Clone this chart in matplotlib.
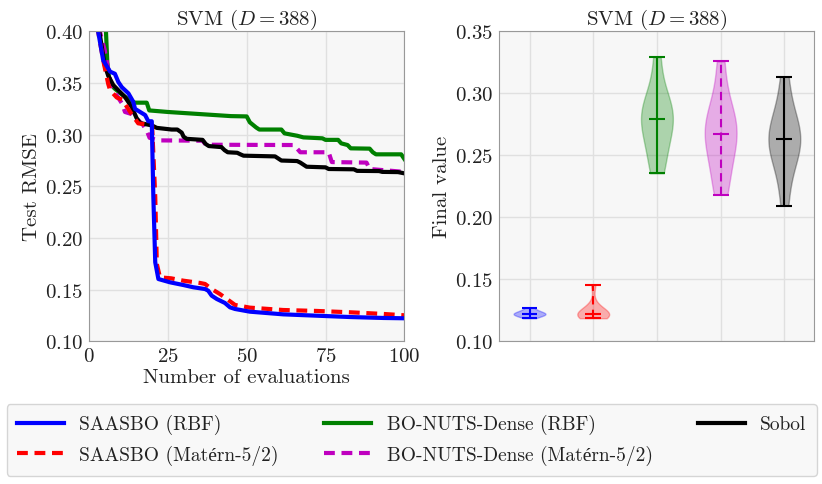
import numpy as np
import matplotlib
matplotlib.use("Agg")
import matplotlib.pyplot as plt

plt.rcParams['font.family'] = ['cmr10', 'Liberation Serif']
plt.rcParams['mathtext.fontset'] = 'cm'
plt.rcParams['axes.formatter.use_mathtext'] = True

# best value so far vs number of evaluations
saasbo_rbf_x = [2.6, 4.5, 6.7, 8.2, 9.3, 10.4, 12.5, 14, 14.6, 16.2, 17.8, 18.8, 19.9, 20.4, 21.0, 22, 25.7, 29.9, 33.1, 36.8, 37.8, 38.9, 40.5, 43.1, 44.7, 46.3, 51, 61.6, 72.2, 82.8, 93.3, 100]
saasbo_rbf_y = [0.405, 0.372, 0.361, 0.359, 0.351, 0.346, 0.340, 0.332, 0.325, 0.322, 0.319, 0.313, 0.313, 0.24, 0.1765, 0.1603, 0.1571, 0.1545, 0.1523, 0.1506, 0.1490, 0.1442, 0.1410, 0.1371, 0.1329, 0.1313, 0.1287, 0.1261, 0.1248, 0.1235, 0.1226, 0.1223]

saasbo_mat_x = [2.6, 4.5, 6.1, 6.7, 8.8, 10.5, 12, 13.5, 15.6, 18, 20, 21.0, 21.5, 22.5, 26, 29.9, 35.2, 36.8, 38.9, 41.5, 43.7, 46.3, 51, 61.6, 72.2, 82.8, 93.3, 100]
saasbo_mat_y = [0.405, 0.372, 0.349, 0.343, 0.336, 0.334, 0.327, 0.320, 0.311, 0.310, 0.309, 0.24, 0.175, 0.1619, 0.1610, 0.1587, 0.1565, 0.1555, 0.1506, 0.1458, 0.1410, 0.1352, 0.1326, 0.1303, 0.1294, 0.1281, 0.1265, 0.1252]

nuts_rbf_x = [5.3, 5.8, 6.5, 8, 10, 13, 14.6, 18.3, 19.1, 25, 35, 45, 50, 51, 53, 54, 61, 62, 66, 68, 74, 75, 79, 80, 82, 83, 89, 90, 91, 99, 100]
nuts_rbf_y = [0.405, 0.37, 0.352, 0.345, 0.340, 0.333, 0.331, 0.331, 0.3235, 0.322, 0.320, 0.318, 0.3177, 0.312, 0.307, 0.305, 0.305, 0.3013, 0.299, 0.2974, 0.2965, 0.295, 0.295, 0.2916, 0.290, 0.2868, 0.2865, 0.283, 0.281, 0.281, 0.2765]

nuts_mat_x = [3.0, 5, 7, 9, 10.5, 11.4, 13.5, 15.6, 17, 18.3, 19.2, 22, 36, 37, 65, 67, 76, 77, 88, 89, 100]
nuts_mat_y = [0.405, 0.3816, 0.348, 0.337, 0.330, 0.322, 0.320, 0.314, 0.310, 0.304, 0.297, 0.2945, 0.2942, 0.2903, 0.2900, 0.283, 0.283, 0.2735, 0.2730, 0.2668, 0.264]

sobol_x = [3.0, 5, 6.1, 7.7, 9.3, 11.4, 13.5, 15.1, 16.2, 18.3, 19.9, 21.5, 26.2, 28, 29.4, 30, 31, 36, 37, 38, 42, 43, 44, 47, 48, 49, 59, 60, 61, 66, 67, 68, 69, 75, 76, 84, 85, 92, 93, 98, 100]
sobol_y = [0.405, 0.367, 0.357, 0.348, 0.343, 0.3365, 0.327, 0.316, 0.3113, 0.310, 0.309, 0.3066, 0.305, 0.305, 0.302, 0.298, 0.296, 0.295, 0.291, 0.289, 0.288, 0.285, 0.283, 0.2825, 0.281, 0.2797, 0.279, 0.277, 0.275, 0.2745, 0.273, 0.271, 0.269, 0.2684, 0.2668, 0.2665, 0.265, 0.2648, 0.264, 0.2638, 0.2626]

# final values per method (for violins)
final_saasbo_rbf = [0.1186, 0.120, 0.121, 0.1215, 0.122, 0.1225, 0.123, 0.124, 0.125, 0.127]
final_saasbo_mat = [0.1186, 0.120, 0.121, 0.121, 0.122, 0.122, 0.123, 0.124, 0.130, 0.1457]
final_nuts_rbf = [0.2355, 0.245, 0.260, 0.270, 0.275, 0.283, 0.285, 0.290, 0.300, 0.3293]
final_nuts_mat = [0.2183, 0.230, 0.245, 0.260, 0.265, 0.270, 0.275, 0.280, 0.295, 0.3258]
final_sobol = [0.2094, 0.235, 0.250, 0.255, 0.260, 0.267, 0.270, 0.275, 0.290, 0.3134]

labels = ['SAASBO (RBF)', 'SAASBO (Matérn-5/2)', 'BO-NUTS-Dense (RBF)',
          'BO-NUTS-Dense (Matérn-5/2)', 'Sobol']
colors = ['b', 'r', 'g', 'm', 'k']
dash = (0, (2.6, 1.6))
styles = ['-', dash, '-', dash, '-']

bg = '#f7f7f7'
gridc = '#e0e0e0'
spinec = '#999999'
txtc = '#222222'
fs = 15

fig = plt.figure(figsize=(8.22, 4.85), dpi=100)
ax1 = fig.add_axes([0.1083, 0.2942, 0.3836, 0.639])
ax2 = fig.add_axes([0.607, 0.2942, 0.3836, 0.639])

for ax in (ax1, ax2):
    ax.set_facecolor(bg)
    ax.grid(True, color=gridc, lw=1)
    ax.set_axisbelow(True)
    for s in ax.spines.values():
        s.set_color(spinec)
    ax.tick_params(length=0, labelsize=fs, pad=4, colors=txtc)
    ax.set_title(r'SVM ($D = 388$)', fontsize=fs, pad=4, color=txtc)

# left: convergence curves
xs = [saasbo_rbf_x, saasbo_mat_x, nuts_rbf_x, nuts_mat_x, sobol_x]
ys = [saasbo_rbf_y, saasbo_mat_y, nuts_rbf_y, nuts_mat_y, sobol_y]
handles = [None] * 5
for i in [2, 3, 4, 1, 0]:
    h, = ax1.plot(xs[i], ys[i], color=colors[i], ls=styles[i], lw=3, label=labels[i])
    handles[i] = h
ax1.set_xlim(0, 100)
ax1.set_ylim(0.10, 0.40)
ax1.set_xticks([0, 25, 50, 75, 100])
ax1.set_yticks(np.arange(0.10, 0.401, 0.05))
ax1.set_xlabel('Number of evaluations', fontsize=fs, labelpad=2, color=txtc)
ax1.set_ylabel('Test RMSE', fontsize=fs, labelpad=3, color=txtc)

# right: violins of final values
finals = [final_saasbo_rbf, final_saasbo_mat, final_nuts_rbf, final_nuts_mat, final_sobol]
pos = [1, 2, 3, 4, 5]
parts = ax2.violinplot(finals, positions=pos, widths=0.5, showmedians=True)
for i, b in enumerate(parts['bodies']):
    b.set_facecolor(colors[i])
    b.set_edgecolor(colors[i])
    b.set_alpha(0.3)
for key in ['cbars', 'cmins', 'cmaxes', 'cmedians']:
    parts[key].set_color(colors)
    parts[key].set_linewidth(1.5)
parts['cbars'].set_linestyle(['solid', (0, (4, 2.5)), 'solid', (0, (4, 2.5)), 'solid'])
ax2.set_xlim(0.52, 5.47)
ax2.set_ylim(0.10, 0.35)
ax2.set_xticks(pos)
ax2.set_xticklabels([])
ax2.set_yticks(np.arange(0.10, 0.351, 0.05))
ax2.set_ylabel('Final value', fontsize=fs, labelpad=3, color=txtc)

leg = fig.legend(handles, labels, loc='lower left', ncol=3, mode='expand',
                 bbox_to_anchor=(0.008, 0.0165, 0.986, 0.1485), fontsize=14,
                 frameon=True, fancybox=True, handlelength=2.4, handletextpad=0.8,
                 borderpad=0.55, labelspacing=0.55, borderaxespad=0)
leg.get_frame().set_facecolor(bg)
leg.get_frame().set_edgecolor('#cccccc')
for t in leg.get_texts():
    t.set_color(txtc)

fig.savefig('out.png', dpi=100)
